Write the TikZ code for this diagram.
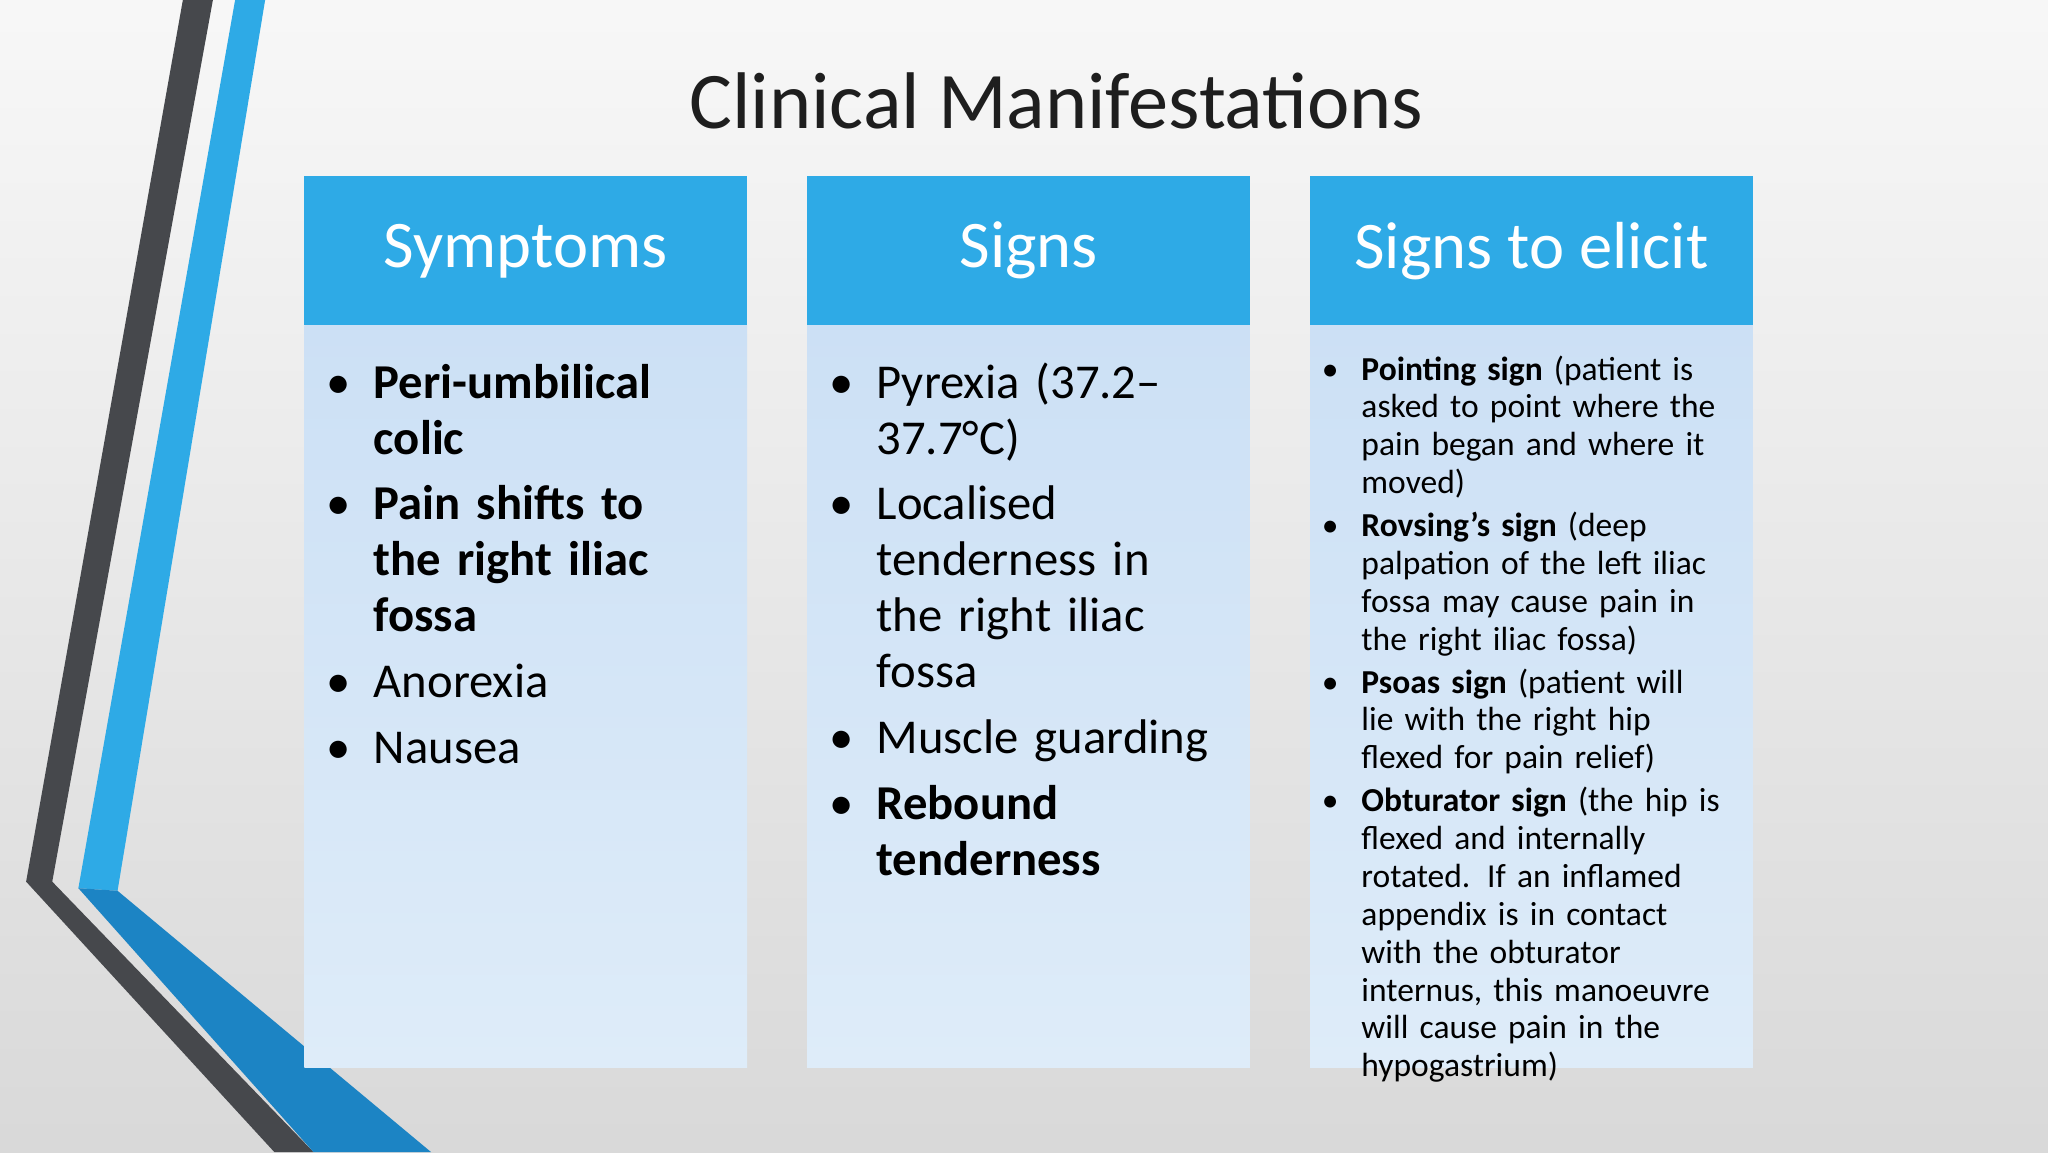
\documentclass[tikz,border=0pt]{standalone}
\usepackage{fontspec}
\setmainfont{Carlito}
\usepackage{enumitem}
\usetikzlibrary{positioning}
\definecolor{blue1}{RGB}{46,170,230}
\definecolor{blue2}{RGB}{28,132,196}
\definecolor{pale1}{RGB}{204,224,245}
\definecolor{pale2}{RGB}{222,236,249}
\definecolor{dark1}{RGB}{70,72,76}
\definecolor{ink}{RGB}{30,30,30}
\setlist[itemize]{label=\textbullet,leftmargin=*,nosep,itemsep=0.2em,before=\raggedright}

\begin{document}
\begin{tikzpicture}[x=1cm, y=1cm, inner sep=0pt, outer sep=0pt,
	head/.style={fill=blue1, minimum width=3.39cm, minimum height=1.14cm, anchor=north west,
		text=white, font=\fontsize{14.5}{16}\selectfont},
	body/.style={top color=pale1, bottom color=pale2, minimum width=3.39cm, minimum height=5.68cm, anchor=north west},
	list/.style={anchor=north west, text width=#1, align=left, text=black}]

	% Background
	\shade[top color=gray!6, bottom color=gray!30] (0,0) rectangle (15.68,8.82);
	\useasboundingbox (0,0) rectangle (15.68,8.82);

	% Stripes
	\fill[dark1] (1.40,8.82) -- (1.63,8.82) -- (0.40,2.07) -- (2.40,0) -- (2.10,0) -- (0.20,2.07) -- cycle;
	\fill[blue1] (1.80,8.82) -- (2.03,8.82) -- (0.90,2.00) -- (0.60,2.02) -- cycle;
	\fill[blue2] (0.60,2.02) -- (0.90,2.00) -- (3.30,0) -- (2.40,0) -- cycle;

	% Title
	\node[text=ink, font=\fontsize{17.5}{20}\selectfont] (title) at (8.09,8.05) {Clinical Manifestations};

	% Columns
	\foreach \x/\n/\t in {2.33/a/Symptoms, 6.18/b/Signs, 10.03/c/Signs to elicit} {
		\node[body] (body\n) at (\x,6.33) {};
		\node[head] (head\n) at (\x,7.47) {\t};
	}

	% Symptoms
	\node[list=2.75cm, font=\fontsize{10.6}{12.2}\selectfont] (symlist) at (2.50,6.20) {%
		\begin{itemize}
		\item \textbf{Peri-umbilical colic}
		\item \textbf{Pain shifts to the right iliac fossa}
		\item Anorexia
		\item Nausea
		\end{itemize}};

	% Signs
	\node[list=2.95cm, font=\fontsize{10.6}{12.2}\selectfont] (signlist) at (6.35,6.20) {%
		\begin{itemize}
		\item Pyrexia (37.2–\allowbreak 37.7°C)
		\item Localised tenderness in the right iliac fossa
		\item Muscle guarding
		\item \textbf{Rebound tenderness}
		\end{itemize}};

	% Signs to elicit
	\node[list=3.05cm, font=\fontsize{7.3}{8.25}\selectfont] (elicitlist) at (10.12,6.20) {%
		\begin{itemize}[itemsep=0.15em]
		\item \textbf{Pointing sign} (patient is asked to point where the pain began and where it moved)
		\item \textbf{Rovsing’s sign} (deep palpation of the left iliac fossa may cause pain in the right iliac fossa)
		\item \textbf{Psoas sign} (patient will lie with the right hip flexed for pain relief)
		\item \textbf{Obturator sign} (the hip is flexed and internally rotated. If an inflamed appendix is in contact with the obturator internus, this manoeuvre will cause pain in the hypogastrium)
		\end{itemize}};

\end{tikzpicture}
\end{document}
